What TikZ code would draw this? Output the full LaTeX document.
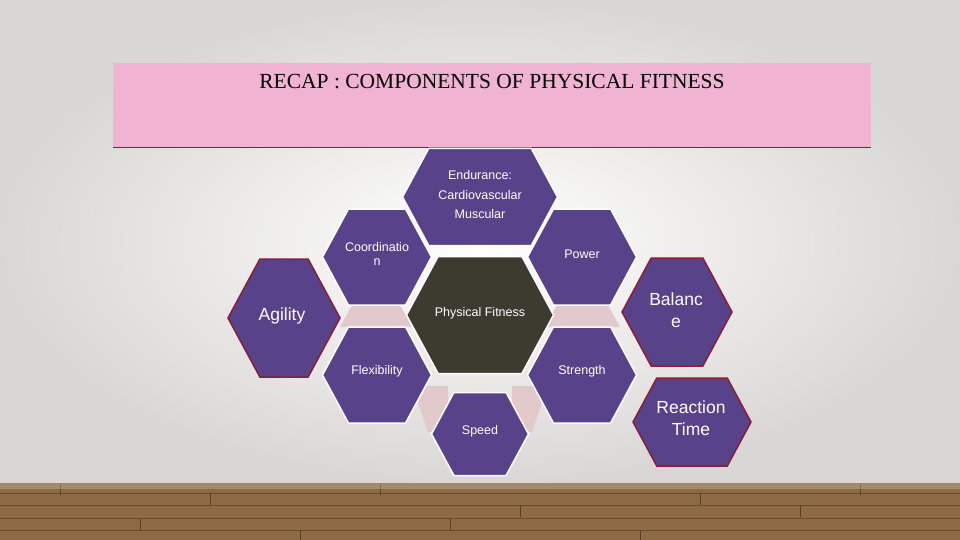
\documentclass[tikz,border=0pt]{standalone}
\usepackage{fontspec}
\setmainfont{Liberation Serif}
\setsansfont{Liberation Sans}
\begin{document}
\begin{tikzpicture}[x=1pt,y=-1pt,
  hexf/.style={fill=hexpurple,draw=white,line width=1.5pt,line join=miter},
  hexo/.style={fill=hexpurple,draw=hexred,line width=1.5pt},
  hexc/.style={fill=hexdark,draw=white,line width=1.5pt},
  lbl/.style={text=white,font=\sffamily\fontsize{12.5}{19.5}\selectfont,align=center},
  big/.style={text=white,font=\sffamily\fontsize{17.5}{21.5}\selectfont,align=center},
  link/.style={fill=linkpink,draw=none}]
\definecolor{hexpurple}{HTML}{58428A}
\definecolor{hexdark}{HTML}{3D3A30}
\definecolor{hexred}{HTML}{8A1E3A}
\definecolor{linkpink}{HTML}{E2C9CC}
\definecolor{bannerpink}{HTML}{F0B4D2}
\definecolor{wall}{HTML}{E9E7E4}
\definecolor{wood}{HTML}{8E6A45}
\useasboundingbox (0,0) rectangle (960,540);
\shade[inner color=white,outer color=wall!85!gray] (0,0) rectangle (960,483);
% floor
\fill[wood] (0,483) rectangle (960,540);
\foreach \yy in {493,505,518,530}{\draw[wood!70!black,line width=0.6pt] (0,\yy) -- (960,\yy);}
\foreach \xx/\yy in {60/483,210/493,380/483,520/505,700/493,860/483,140/518,450/518,800/505,300/530,640/530}{\draw[wood!60!black,line width=0.6pt] (\xx,\yy) -- ++(0,12);}
\fill[white!60!wood,opacity=0.35] (0,483) rectangle (960,489);
% banner
\fill[bannerpink] (113,63) rectangle (871,147);
\draw[hexred,line width=0.8pt] (113,147) -- (871,147);
\node[font=\fontsize{21.5}{24}\selectfont] (title) at (492,82) {RECAP : COMPONENTS OF PHYSICAL FITNESS};
% links
\fill[link] (352,305) -- (400,305) -- (412,327) -- (340,327) -- cycle;
\fill[link] (557,305) -- (608,305) -- (620,327) -- (545,327) -- cycle;
\fill[link] (412,386) -- (448,386) -- (448,430) -- (428,432) -- cycle;
\fill[link] (512,386) -- (548,386) -- (532,432) -- (512,430) -- cycle;
% hexagon macro
\newcommand{\hexa}[5]{%
  \pgfmathsetmacro{\hi}{0.27*#4}%
  \draw[#5] (#1-#3/2,#2) -- (#1-#3/2+\hi,#2-#4/2) -- (#1+#3/2-\hi,#2-#4/2) -- (#1+#3/2,#2) -- (#1+#3/2-\hi,#2+#4/2) -- (#1-#3/2+\hi,#2+#4/2) -- cycle;}
\hexa{480}{197}{155}{97}{hexf}
\hexa{377}{257}{109}{96}{hexf}
\hexa{582}{257}{109}{96}{hexf}
\hexa{377}{375}{109}{96}{hexf}
\hexa{582}{375}{109}{96}{hexf}
\hexa{480}{434}{97}{83}{hexf}
\hexa{480}{315}{147}{117}{hexc}
\hexa{284}{318}{112}{118}{hexo}
\hexa{677}{312}{110}{108}{hexo}
\hexa{692}{422}{118}{88}{hexo}
\node[lbl] (endu) at (480,195) {Endurance:\\Cardiovascular\\Muscular};
\node[lbl] (coord) at (377,254) {Coordinatio\\[-6pt]n};
\node[lbl] (power) at (582,254) {Power};
\node[lbl] (pf) at (480,313) {Physical Fitness};
\node[lbl] (flex) at (377,371) {Flexibility};
\node[lbl] (str) at (582,371) {Strength};
\node[lbl] (speed) at (480,431) {Speed};
\node[big] (agil) at (282,316) {Agility};
\node[big] (bal) at (676,310) {Balanc\\e};
\node[big] (react) at (691,418) {Reaction\\Time};
\end{tikzpicture}
\end{document}
